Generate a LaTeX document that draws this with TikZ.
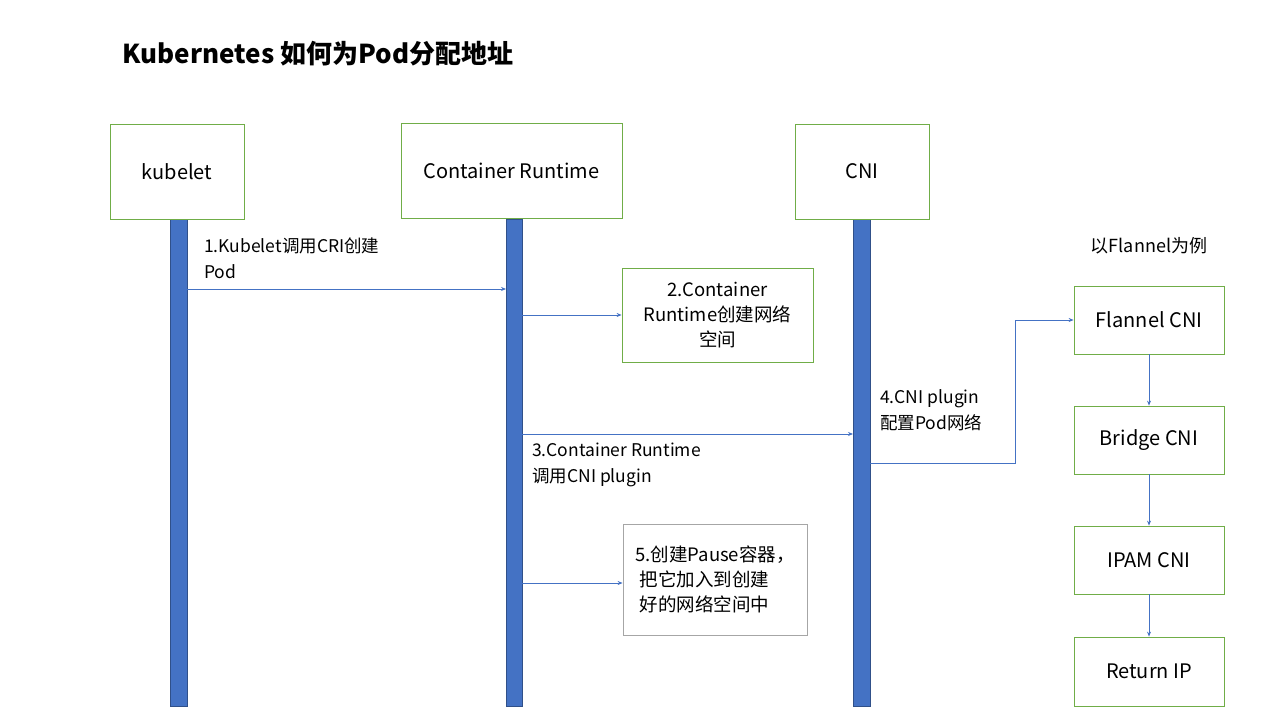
\documentclass[tikz,border=0pt]{standalone}
\usepackage{fontspec}
\setmainfont{Noto Sans CJK SC}
\usetikzlibrary{arrows.meta}
\definecolor{gb}{HTML}{70AD47}
\definecolor{bl}{HTML}{4472C4}
\begin{document}
\begin{tikzpicture}[x=1pt,y=-1pt,
 box/.style={draw=gb,line width=0.8pt,fill=white,inner sep=0},
 gbox/.style={draw=gray!70,line width=0.8pt,inner sep=0},
 bar/.style={fill=bl,draw=bl!70!black,line width=0.5pt},
 arr/.style={draw=bl,line width=0.8pt,-{Stealth[length=5pt,width=4pt]}},
 lbl/.style={font=\fontsize{17.5}{26}\selectfont,align=left,anchor=north west,inner sep=0},
 big/.style={font=\fontsize{20}{24}\selectfont}]
\useasboundingbox (0,0) rectangle (1280,720);
\node[anchor=west,font=\bfseries\fontsize{26}{30}\selectfont] (title) at (119,54) {Kubernetes 如何为Pod分配地址};
\path[bar] (170,219) rectangle (187,706);
\path[bar] (506,219) rectangle (522,706);
\path[bar] (853,219) rectangle (870,706);
\node[box,big,minimum width=134,minimum height=95] (kub) at (177,171.5) {kubelet};
\node[box,big,minimum width=221,minimum height=95] (cr) at (511.5,170.5) {Container Runtime};
\node[box,big,minimum width=134,minimum height=95] (cni) at (862,171.5) {CNI};
\coordinate (a1) at (187,289); \coordinate (b1) at (506,289);
\draw[arr] (a1) -- (b1);
\node[lbl] (l1) at (204,238) {1.Kubelet调用CRI创建\\Pod};
\node[box,font=\fontsize{18.5}{25}\selectfont,minimum width=191,minimum height=94,align=center] (s2) at (717.5,315) {2.Container\\Runtime创建网络\\空间};
\coordinate (a2) at (522,315);
\draw[arr] (a2) -- (s2.west);
\coordinate (a3) at (522,434); \coordinate (b3) at (853,434);
\draw[arr] (a3) -- (b3);
\node[lbl] (l3) at (532,443) {3.Container Runtime\\调用CNI plugin};
\node[box,big,minimum width=150,minimum height=68] (f) at (1149,320) {Flannel CNI};
\node[box,big,minimum width=150,minimum height=68] (br) at (1149,440) {Bridge CNI};
\node[box,big,minimum width=150,minimum height=68] (ip) at (1149,560) {IPAM CNI};
\node[box,big,minimum width=150,minimum height=69] (rip) at (1149,671.5) {Return IP};
\coordinate (a4) at (870,463);
\draw[arr] (a4) -| (1015,320) -- (f.west);
\node[lbl] (l4) at (880,389) {4.CNI plugin\\配置Pod网络};
\node[gbox,font=\fontsize{18.5}{25}\selectfont,minimum width=184,minimum height=111,align=left] (s5) at (715,579.5) {5.创建Pause容器，\\\ 把它加入到创建\\\ 好的网络空间中};
\coordinate (a5) at (522,583);
\draw[arr] (a5) -- (s5.west |- a5);
\node[font=\fontsize{18}{20}\selectfont] (ex) at (1149,246) {以Flannel为例};
\draw[arr] (f) -- (br); \draw[arr] (br) -- (ip); \draw[arr] (ip) -- (rip);
\end{tikzpicture}
\end{document}
